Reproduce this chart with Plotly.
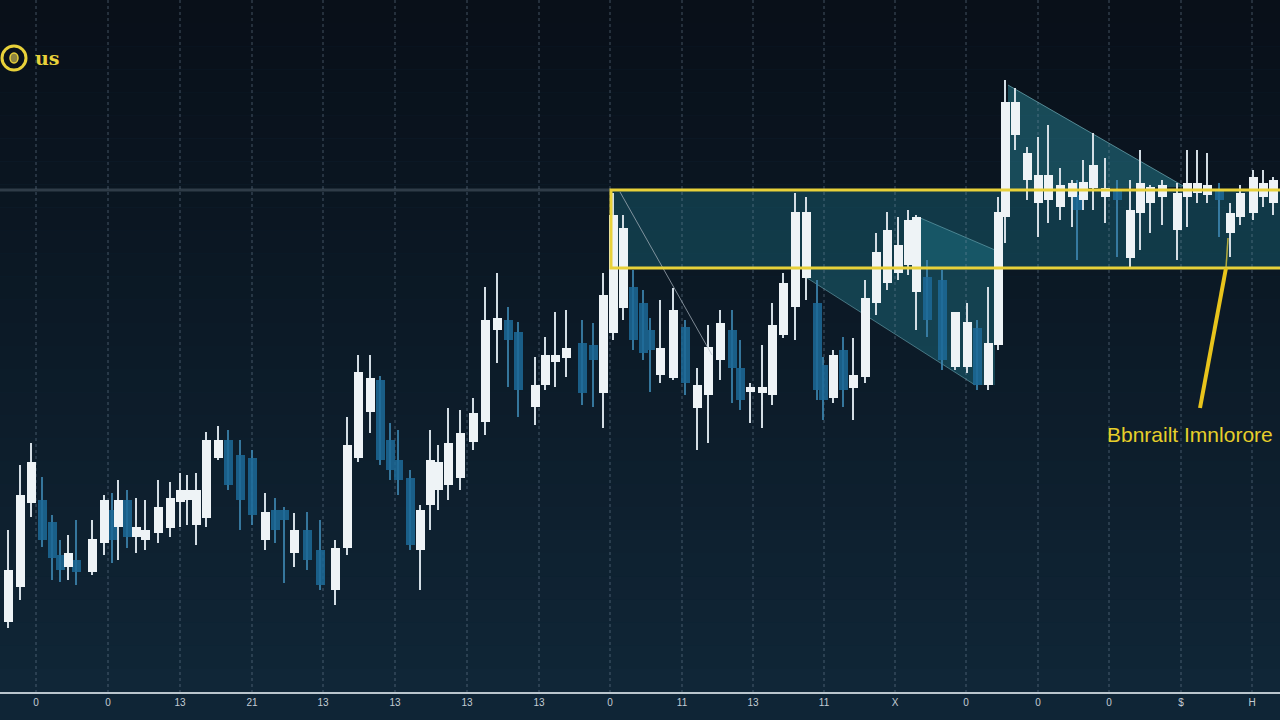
import plotly.graph_objects as go

# candle time positions and OHLC values
t = [8, 20, 31, 42, 52, 60, 68, 76, 92, 104,
     112, 118, 127, 136, 145, 158, 170, 180, 187, 196,
     206, 218, 228, 240, 252, 265, 275, 284, 294, 307,
     320, 335, 347, 358, 370, 380, 390, 398, 410, 420,
     430, 438, 448, 460, 473, 485, 497, 508, 518, 535,
     545, 555, 566, 582, 593, 603, 613, 623, 633, 643,
     650, 660, 673, 685, 697, 708, 720, 732, 740, 750,
     762, 772, 783, 795, 806, 817, 823, 833, 843, 853,
     865, 876, 887, 898, 908, 916, 927, 942, 955, 967,
     977, 988, 998, 1005, 1015, 1027, 1038, 1048, 1060, 1072,
     1077, 1083, 1093, 1105, 1117, 1130, 1140, 1150, 1162, 1177,
     1187, 1197, 1207, 1219, 1230, 1240, 1253, 1263, 1273]

open_ = [78, 113, 197, 200, 178, 145, 133, 140, 128, 157,
         190, 173, 200, 163, 160, 167, 172, 198, 200, 175,
         182, 242, 260, 245, 242, 160, 190, 190, 147, 170,
         150, 110, 152, 242, 288, 320, 260, 240, 222, 150,
         195, 210, 215, 222, 258, 278, 370, 380, 368, 293,
         315, 338, 342, 357, 355, 307, 367, 392, 413, 397,
         370, 325, 322, 373, 292, 305, 340, 370, 332, 308,
         307, 305, 365, 393, 422, 397, 335, 302, 350, 312,
         323, 397, 417, 427, 435, 408, 423, 420, 333, 333,
         372, 315, 355, 483, 565, 520, 497, 500, 493, 503,
         505, 500, 512, 503, 510, 442, 487, 497, 503, 470,
         503, 507, 505, 510, 467, 483, 487, 503, 497]

high = [170, 235, 257, 223, 185, 160, 165, 180, 180, 205,
        207, 220, 210, 202, 200, 220, 218, 227, 225, 227,
        268, 274, 270, 260, 250, 207, 202, 193, 187, 188,
        180, 160, 283, 345, 345, 324, 277, 270, 230, 195,
        270, 255, 292, 290, 302, 413, 427, 393, 378, 343,
        363, 388, 390, 380, 377, 427, 507, 485, 430, 410,
        382, 400, 412, 380, 332, 375, 390, 390, 360, 317,
        355, 397, 427, 507, 503, 420, 343, 350, 363, 362,
        420, 467, 488, 483, 490, 485, 440, 430, 388, 397,
        380, 413, 503, 620, 612, 553, 563, 575, 532, 520,
        520, 540, 567, 542, 520, 520, 550, 515, 520, 517,
        550, 550, 547, 517, 497, 515, 530, 530, 523]

low = [72, 100, 183, 153, 120, 118, 120, 115, 125, 145,
       137, 140, 152, 147, 150, 157, 163, 173, 175, 155,
       173, 240, 210, 170, 175, 150, 157, 117, 133, 130,
       110, 95, 145, 238, 267, 235, 220, 205, 150, 110,
       170, 190, 200, 210, 250, 265, 337, 313, 283, 275,
       310, 313, 323, 295, 293, 272, 360, 380, 350, 340,
       308, 317, 320, 305, 250, 257, 320, 297, 290, 277,
       272, 295, 362, 360, 400, 300, 280, 297, 293, 280,
       317, 385, 410, 420, 425, 370, 363, 330, 330, 327,
       310, 310, 350, 457, 550, 500, 463, 477, 480, 473,
       440, 490, 490, 477, 443, 433, 450, 467, 475, 440,
       473, 497, 497, 463, 443, 475, 480, 493, 485]

close = [130, 205, 238, 160, 142, 130, 147, 128, 161, 200,
         160, 200, 163, 173, 170, 193, 202, 210, 210, 210,
         260, 260, 215, 200, 185, 188, 170, 180, 170, 140,
         115, 152, 255, 328, 322, 240, 230, 220, 155, 190,
         240, 238, 257, 267, 287, 380, 382, 360, 310, 315,
         345, 345, 352, 307, 340, 405, 485, 472, 360, 347,
         350, 352, 390, 317, 315, 353, 377, 332, 300, 313,
         313, 375, 417, 488, 488, 310, 300, 345, 310, 325,
         402, 448, 470, 455, 480, 483, 380, 340, 388, 378,
         315, 357, 488, 598, 598, 547, 525, 525, 515, 517,
         490, 518, 535, 512, 500, 490, 517, 513, 515, 507,
         517, 517, 515, 500, 487, 507, 523, 517, 520]

tick_pos = [36, 108, 180, 252, 323, 395, 467, 539, 610,
            682, 753, 824, 895, 966, 1038, 1109, 1181, 1252]
tick_text = ["0", "0", "13", "21", "13", "13", "13", "13", "0",
             "11", "13", "11", "X", "0", "0", "0", "$", "H"]

label_text = "Bbnrailt Imnlorore"
badge_text = "us"

YELLOW = "#e8d13a"
WHITE = "#eef3f6"
BLUE = "#1d6a98"

up = [i for i in range(len(t)) if close[i] >= open_[i]]
down = [i for i in range(len(t)) if close[i] < open_[i]]


def pick(arr, idx):
    return [arr[i] for i in idx]


def candle_traces(idx, body_color, wick_color, opacity):
    xs = pick(t, idx)
    lo_body = [min(open_[i], close[i]) for i in idx]
    h_body = [max(abs(close[i] - open_[i]), 2) for i in idx]
    wick = go.Bar(
        x=xs, y=[high[i] - low[i] for i in idx], base=pick(low, idx),
        width=1.6, marker=dict(color=wick_color, line=dict(width=0)),
        opacity=opacity, hoverinfo="skip", showlegend=False
    )
    body = go.Bar(
        x=xs, y=h_body, base=lo_body,
        width=9, marker=dict(color=body_color, line=dict(width=0)),
        opacity=opacity, showlegend=False,
        customdata=[[open_[i], high[i], low[i], close[i]] for i in idx],
        hovertemplate="O %{customdata[0]}<br>H %{customdata[1]}<br>"
                      "L %{customdata[2]}<br>C %{customdata[3]}<extra></extra>"
    )
    return [wick, body]


fig = go.Figure()
for tr in candle_traces(down, BLUE, "#3d86b0", 0.85):
    fig.add_trace(tr)
for tr in candle_traces(up, WHITE, "#d3dde4", 1.0):
    fig.add_trace(tr)

shapes = []

# vertical background gradient
top_rgb = (9, 16, 25)
bot_rgb = (16, 38, 55)
n_bands = 30
for k in range(n_bands):
    f = k / (n_bands - 1)
    c = tuple(int(top_rgb[j] + (bot_rgb[j] - top_rgb[j]) * f) for j in range(3))
    shapes.append(dict(
        type="rect", xref="paper", yref="paper", layer="below",
        x0=0, x1=1, y0=1 - (k + 1) / n_bands, y1=1 - k / n_bands,
        fillcolor="rgb(%d,%d,%d)" % c, line=dict(width=0)
    ))

# resistance line on the left
shapes.append(dict(type="line", x0=0, x1=611, y0=510, y1=510, layer="below",
                   line=dict(color="#2f3c48", width=3)))

# breakout zone fill
shapes.append(dict(type="rect", x0=611, x1=1290, y0=432, y1=510, layer="below",
                   fillcolor="rgba(28,115,135,0.38)", line=dict(width=0)))

# flag / triangle fills
shapes.append(dict(type="path", layer="below",
                   path="M 1008 615 L 1185 513 L 1008 510 Z",
                   fillcolor="rgba(45,150,170,0.42)",
                   line=dict(width=0)))
shapes.append(dict(type="line", x0=1008, y0=615, x1=1185, y1=513, layer="below",
                   line=dict(color="rgba(140,205,215,0.55)", width=1)))
shapes.append(dict(type="path", layer="below",
                   path="M 807 432 L 918 432 L 918 483 L 995 450 L 995 315 "
                        "L 975 315 L 807 422 Z",
                   fillcolor="rgba(35,135,155,0.36)",
                   line=dict(width=0)))
shapes.append(dict(type="line", x0=918, y0=483, x1=995, y1=450, layer="below",
                   line=dict(color="rgba(140,205,215,0.45)", width=1)))
shapes.append(dict(type="line", x0=807, y0=422, x1=975, y1=315, layer="below",
                   line=dict(color="rgba(140,205,215,0.45)", width=1)))

# thin trend line
shapes.append(dict(type="line", x0=620, y0=508, x1=712, y1=345,
                   line=dict(color="rgba(175,185,195,0.7)", width=1)))

# yellow zone outline on top
shapes.append(dict(type="rect", x0=611, x1=1290, y0=432, y1=510, layer="above",
                   line=dict(color=YELLOW, width=3)))

# pointer
shapes.append(dict(type="line", x0=1228, y0=462, x1=1226, y1=432,
                   line=dict(color="rgba(220,200,60,0.8)", width=1.5)))
shapes.append(dict(type="line", x0=1226, y0=432, x1=1200, y1=292,
                   line=dict(color="#e8c41c", width=4)))

# badge icon top-left
shapes.append(dict(type="circle", x0=2, x1=26, y0=630, y1=654,
                   line=dict(color=YELLOW, width=3)))
shapes.append(dict(type="circle", x0=10, x1=18, y0=637, y1=647,
                   fillcolor="rgba(230,210,90,0.6)", line=dict(color=YELLOW, width=1.5)))

fig.update_layout(
    width=1280, height=720,
    margin=dict(l=0, r=0, t=0, b=28),
    paper_bgcolor="#0f2536",
    plot_bgcolor="rgba(0,0,0,0)",
    barmode="overlay",
    bargap=0,
    shapes=shapes,
    showlegend=False,
    xaxis=dict(
        range=[0, 1280], tickvals=tick_pos, ticktext=tick_text,
        showgrid=True, gridcolor="rgba(130,150,170,0.24)", griddash="dot",
        gridwidth=1.5, zeroline=False,
        showline=True, linecolor="#b9c5cd", linewidth=2,
        ticks="", tickfont=dict(family="Liberation Sans", size=10, color="#c3ccd4")
    ),
    yaxis=dict(range=[8, 700], visible=False, showgrid=False, zeroline=False),
    annotations=[
        dict(x=1190, y=266, text=label_text, showarrow=False,
             font=dict(family="Liberation Sans", size=21, color="#e6cf2a")),
        dict(x=33, y=642, text="<b>" + badge_text + "</b>", showarrow=False,
             xanchor="left", font=dict(family="DejaVu Serif", size=19, color=YELLOW)),
    ],
)

fig.write_html("out.html", config={"displayModeBar": False},
               post_script="document.body.style.margin='0';")
